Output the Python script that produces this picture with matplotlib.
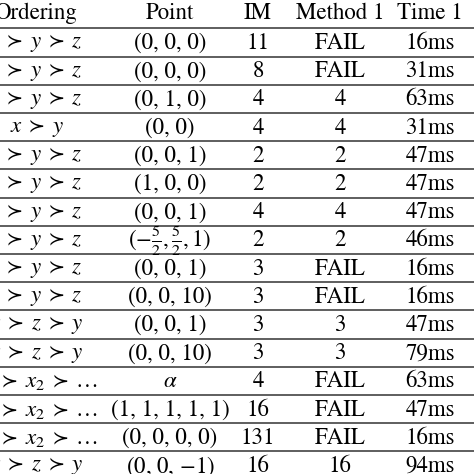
import matplotlib
matplotlib.use("Agg")
import matplotlib.pyplot as plt

plt.rcParams['mathtext.fontset'] = 'stix'
plt.rcParams['font.family'] = 'STIXGeneral'

headers = ["Ordering", "Point", "IM", "Method 1", "Time 1"]
ordering = [r"$x \;\succ\; y \;\succ\; z$"]*3 + [r"$x \;\succ\; y$"] + [r"$x \;\succ\; y \;\succ\; z$"]*6 + \
           [r"$x \;\succ\; z \;\succ\; y$"]*2 + [r"$x_1 \;\succ\; x_2 \;\succ\; \ldots$"]*3 + [r"$x \;\succ\; z \;\succ\; y$"]
points = ["(0, 0, 0)", "(0, 0, 0)", "(0, 1, 0)", "(0, 0)", "(0, 0, 1)", "(1, 0, 0)", "(0, 0, 1)",
          r"$(-\frac{5}{2}, \frac{5}{2}, 1)$", "(0, 0, 1)", "(0, 0, 10)", "(0, 0, 1)", "(0, 0, 10)",
          r"$\alpha$", "(1, 1, 1, 1, 1)", "(0, 0, 0, 0)", r"(0, 0, $-$1)"]
im = ["11", "8", "4", "4", "2", "2", "4", "2", "3", "3", "3", "3", "4", "16", "131", "16"]
method1 = ["FAIL", "FAIL", "4", "4", "2", "2", "4", "2", "FAIL", "FAIL", "3", "3", "FAIL", "FAIL", "FAIL", "16"]
time1 = ["16ms", "31ms", "63ms", "31ms", "47ms", "47ms", "47ms", "46ms", "16ms", "16ms", "47ms", "79ms",
         "63ms", "47ms", "16ms", "94ms"]

W = H = 474
fig = plt.figure(figsize=(4.74, 4.74), dpi=100)
fig.patch.set_facecolor("white")

def fx(px): return px / W
def fy(py): return 1 - py / H

xc = [36, 170, 258, 340, 430]
fs = 16.5
for j in range(5):
    fig.text(fx(xc[j]), fy(13), headers[j], ha="center", va="center", fontsize=fs)

top = 28.3
step = 28.2
for i in range(16):
    yc = top + step * (i + 0.5) + 1
    o = ordering[i]
    if i == 3:
        fig.text(fx(37), fy(yc), o, ha="center", va="center", fontsize=fs)
    elif "x_1" in o:
        fig.text(fx(98), fy(yc), o, ha="right", va="center", fontsize=fs)
    else:
        fig.text(fx(83), fy(yc), o, ha="right", va="center", fontsize=fs)
    fig.text(fx(xc[1]), fy(yc), points[i], ha="center", va="center", fontsize=fs)
    fig.text(fx(xc[2]), fy(yc), im[i], ha="center", va="center", fontsize=fs)
    fig.text(fx(xc[3]), fy(yc), method1[i], ha="center", va="center", fontsize=fs)
    fig.text(fx(xc[4]), fy(yc), time1[i], ha="center", va="center", fontsize=fs)

for k in range(16):
    y = top + step * k
    fig.add_artist(plt.Line2D([0, 1], [fy(y), fy(y)], color="#333333", lw=1.1, transform=fig.transFigure))

fig.savefig("out.png", dpi=100, facecolor="white")
